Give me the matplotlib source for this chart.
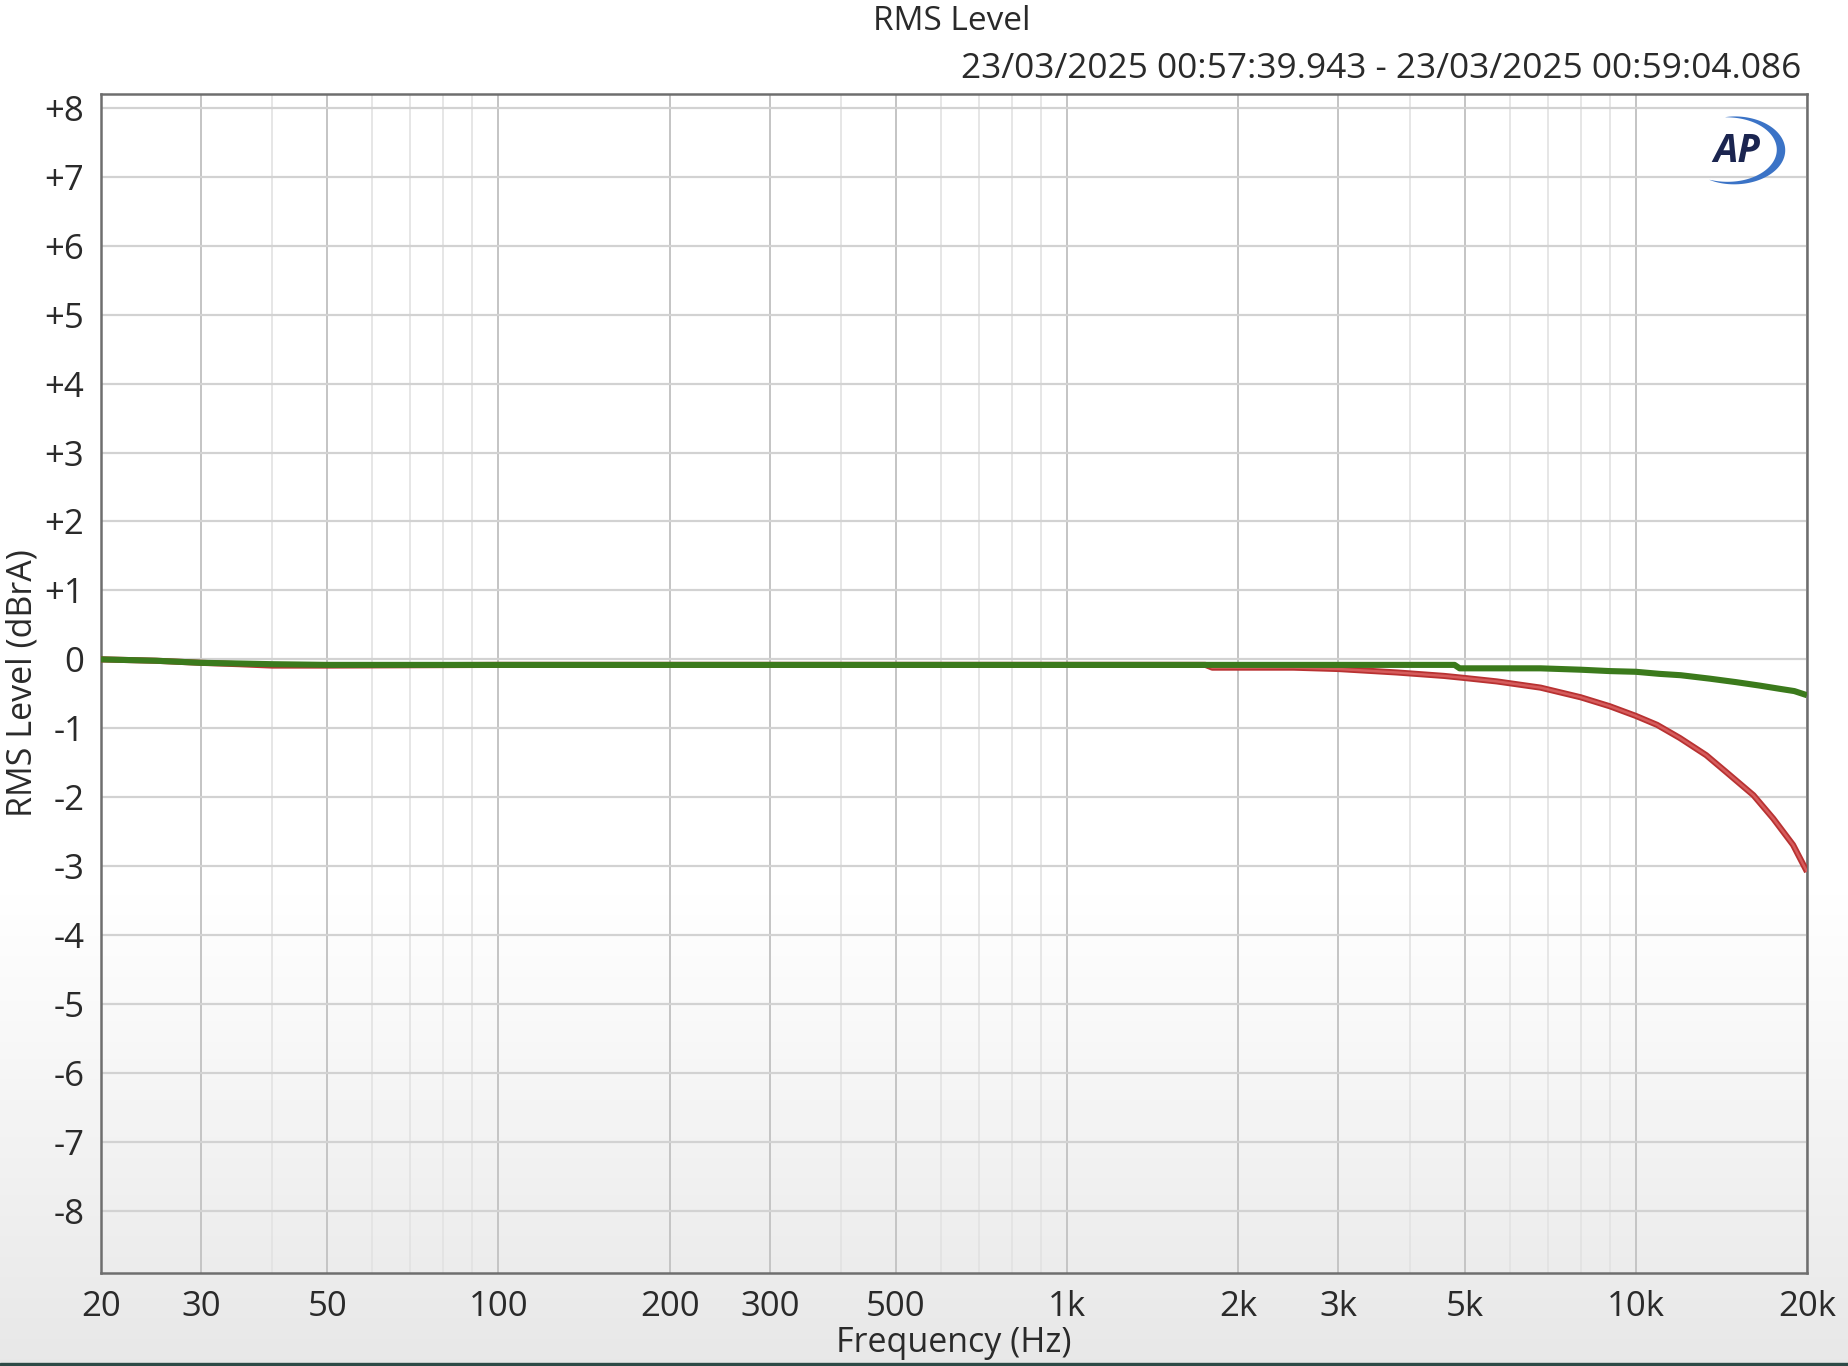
"""RMS level vs frequency, two channels (AP analyzer style)."""

import numpy as np
import matplotlib
matplotlib.use("Agg")
import matplotlib.pyplot as plt
from matplotlib.patches import Polygon
from matplotlib.ticker import FixedLocator, NullFormatter

plt.rcParams["font.family"] = ["Open Sans", "DejaVu Sans"]

# data
red_freq = [20, 25, 30, 35, 40, 45, 50, 100, 200, 500, 1000, 1750, 1800, 2500, 3000,
            3800, 4600, 5000, 5700, 6800, 8000, 9000, 10000, 10900, 11950, 13300,
            14400, 16100, 17450, 18900, 20000]
red_db = [0.0, -0.02, -0.05, -0.07, -0.09, -0.09, -0.09, -0.08, -0.08, -0.08, -0.08, -0.08,
          -0.12, -0.12, -0.14, -0.19, -0.24, -0.27, -0.32, -0.41, -0.55, -0.68, -0.82,
          -0.95, -1.14, -1.39, -1.63, -1.97, -2.31, -2.69, -3.08]
green_freq = [20, 25, 30, 35, 40, 50, 100, 200, 500, 1000, 2000, 4800, 4900, 6800, 8000,
              9000, 10000, 11000, 12000, 13500, 15000, 16500, 18000, 19000, 20000]
green_db = [0.0, -0.02, -0.05, -0.06, -0.07, -0.08, -0.08, -0.08, -0.08, -0.08, -0.08, -0.08,
            -0.13, -0.13, -0.15, -0.17, -0.18, -0.21, -0.23, -0.28, -0.33, -0.38, -0.43,
            -0.46, -0.52]

x_major = [20, 30, 50, 100, 200, 300, 500, 1000, 2000, 3000, 5000, 10000, 20000]
x_labels = ["20", "30", "50", "100", "200", "300", "500", "1k", "2k", "3k", "5k", "10k", "20k"]
y_ticks = list(range(-8, 9))
y_labels = [("+%d" % v if v > 0 else "%d" % v) for v in y_ticks]

title = "RMS Level"
subtitle = "23/03/2025 00:57:39.943 - 23/03/2025 00:59:04.086"

TEXT = "#2a2a2a"
W, H = 1848, 1366
fig = plt.figure(figsize=(W / 100, H / 100), dpi=100)

# background gradient (white top -> light grey bottom)
bg = fig.add_axes([0, 0, 1, 1], zorder=-10)
t = np.linspace(0, 1, 400)
shade = np.interp(t, [0, 0.64, 0.75, 0.86, 1.0], [1.0, 1.0, 0.972, 0.942, 0.905])
bg.imshow(np.repeat(shade[:, None], 2, axis=1), cmap="gray", vmin=0, vmax=1,
          aspect="auto", extent=[0, 1, 0, 1], origin="upper")
bg.add_patch(plt.Rectangle((0, 0), 1, 3 / H, color="#2d4a46", transform=bg.transAxes))
bg.set_axis_off()

ax = fig.add_axes([101 / W, 1 - 1273 / H, (1807 - 101) / W, (1273 - 94) / H])
ax.set_facecolor("none")
ax.set_xscale("log")
ax.set_xlim(20, 20000)
ax.set_ylim(-8.9, 8.2)

minor = [m * d for d in (10, 100, 1000, 10000) for m in range(1, 10)]
minor = [v for v in minor if 20 < v < 20000 and v not in x_major]
ax.xaxis.set_major_locator(FixedLocator(x_major))
ax.set_xticklabels(x_labels)
ax.xaxis.set_minor_locator(FixedLocator(minor))
ax.xaxis.set_minor_formatter(NullFormatter())
ax.set_yticks(y_ticks)
ax.set_yticklabels(y_labels)

ax.grid(True, which="major", axis="x", color="#c4c4c4", linewidth=1.4)
ax.grid(True, which="minor", axis="x", color="#e2e2e2", linewidth=1.2)
ax.grid(True, which="major", axis="y", color="#d2d2d2", linewidth=1.6)
ax.set_axisbelow(True)
ax.tick_params(which="both", length=0, labelsize=25, colors=TEXT, pad=12)

for s in ax.spines.values():
    s.set_color("#6e6e6e")
    s.set_linewidth(1.8)

# red channel: darker rim with lighter core, green drawn on top
ax.plot(red_freq, red_db, color="#b83232", linewidth=4.4, solid_capstyle="butt", zorder=3)
ax.plot(red_freq, red_db, color="#d65c5c", linewidth=1.8, solid_capstyle="butt", zorder=3)
ax.plot(green_freq, green_db, color="#3b7a1c", linewidth=4.4, solid_capstyle="butt", zorder=4)

ax.set_xlabel("Frequency (Hz)", fontsize=24.5, color=TEXT, labelpad=2)
ax.set_ylabel("RMS Level (dBrA)", fontsize=24.5, color=TEXT, labelpad=4)

fig.text(952 / W, 1 - 21.5 / H, title, fontsize=24, color=TEXT, ha="center", va="center")
fig.text(1801 / W, 1 - 69 / H, subtitle, fontsize=25.4, color=TEXT, ha="right", va="center")

# AP logo: italic letters with a tapered crescent on the right
cx, cy, rx, ry = 1731, 150, 50, 33
ang = np.linspace(-np.pi / 2 - 0.12, np.pi / 2 + 0.45, 120)
s = np.linspace(0, 1, ang.size)
w = 0.085 * np.sin(np.pi * s) ** 0.8
ex, ey = rx * np.cos(ang), ry * np.sin(ang)
outer = np.column_stack([cx + ex * (1 + w), cy + ey * (1 + w)])
inner = np.column_stack([cx + ex * (1 - w), cy + ey * (1 - w)])[::-1]
pts = np.vstack([outer, inner])
pts = np.column_stack([pts[:, 0] / W, 1 - pts[:, 1] / H])
fig.patches.append(Polygon(pts, closed=True, facecolor="#3b73c6", edgecolor="none",
                           transform=fig.transFigure, figure=fig, zorder=5))
fig.text(1737 / W, 1 - 152 / H, "AP", fontsize=28, fontweight="bold", fontstyle="italic",
         color="#1b2550", ha="center", va="center", zorder=6)

fig.savefig("out.png", dpi=100)
